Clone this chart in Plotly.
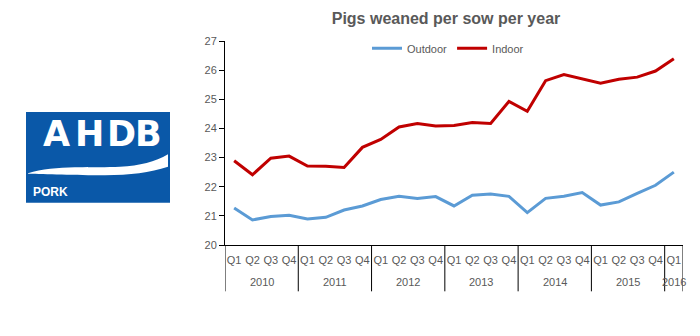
import plotly.graph_objects as go

# ---- data ----
years = ["2010", "2011", "2012", "2013", "2014", "2015", "2016"]
quarters = ["Q1", "Q2", "Q3", "Q4"]
outdoor = [21.27, 20.86, 20.98, 21.02,
           20.89, 20.95, 21.20, 21.34,
           21.56, 21.67, 21.60, 21.66,
           21.34, 21.71, 21.75, 21.67,
           21.11, 21.60, 21.67, 21.80,
           21.37, 21.48, 21.77, 22.05,
           22.50]
indoor = [22.89, 22.41, 22.98, 23.05,
          22.71, 22.70, 22.66, 23.35,
          23.62, 24.05, 24.17, 24.08,
          24.10, 24.20, 24.17, 24.93,
          24.59, 25.64, 25.85, 25.70,
          25.55, 25.69, 25.76, 25.97,
          26.39]

cats, qlab, ylab = [], [], []
for y in years:
    for q in quarters:
        if len(cats) < len(outdoor):
            cats.append(f"{y} {q}")
            qlab.append(q)
            ylab.append(y)

# ---- layout geometry ----
W, H = 700, 336
ML, MR, MT, MB = 225, 17, 40.7, 90.5
PW, PH = W - ML - MR, H - MT - MB


def px(x):
    return (x - ML) / PW


def py(y):
    return 1 - (y - MT) / PH


GREY = "#595959"
FONT = "Liberation Sans, Arial, sans-serif"

fig = go.Figure()
fig.add_trace(go.Scatter(x=cats, y=outdoor, name="Outdoor", mode="lines",
                         line=dict(color="#5B9BD5", width=3)))
fig.add_trace(go.Scatter(x=cats, y=indoor, name="Indoor", mode="lines",
                         line=dict(color="#C00000", width=3)))

shapes = []
annotations = []

# year group dividers and labels
n = len(cats)
bounds = [-0.5]
for i in range(1, n):
    if ylab[i] != ylab[i - 1]:
        bounds.append(i - 0.5)
bounds.append(n - 0.5)
for b in bounds:
    shapes.append(dict(type="line", xref="x", yref="paper", x0=b, x1=b,
                       y0=py(245.5), y1=py(292), line=dict(color="black", width=1)))
for k in range(len(bounds) - 1):
    idx = int(bounds[k] + 0.5)
    annotations.append(dict(text=ylab[idx], xref="x", yref="paper",
                            x=(bounds[k] + bounds[k + 1]) / 2, y=py(283),
                            xanchor="center", yanchor="middle", showarrow=False,
                            font=dict(family=FONT, size=11, color=GREY)))

# ---- logo ----
shapes.append(dict(type="rect", xref="paper", yref="paper",
                   x0=px(26), x1=px(170), y0=py(203), y1=py(112),
                   fillcolor="#0a58a8", line=dict(width=0), layer="above"))


def P(a, b):
    return f"{px(a):.5f},{py(b):.5f}"


path = ("M " + P(28, 173.5) +
        " C " + P(55, 165) + " " + P(95, 168.5) + " " + P(120, 167) +
        " C " + P(140, 166) + " " + P(155, 162) + " " + P(168, 154.5) +
        " L " + P(168, 167) +
        " C " + P(150, 173) + " " + P(130, 175.5) + " " + P(105, 175.5) +
        " C " + P(75, 175.5) + " " + P(45, 174.5) + " " + P(28, 174) + " Z")
shapes.append(dict(type="path", xref="paper", yref="paper", path=path,
                   fillcolor="white", line=dict(width=0), layer="above"))

for letter, cx in zip("AHDB", [56, 89.5, 121.5, 148.5]):
    annotations.append(dict(text=letter, xref="paper", yref="paper",
                            x=px(cx), y=py(134), xanchor="center", yanchor="middle",
                            showarrow=False,
                            font=dict(family="DejaVu Sans, sans-serif", size=35,
                                      color="white", weight="bold")))
annotations.append(dict(text="PORK", xref="paper", yref="paper",
                        x=px(31), y=py(192), xanchor="left", yanchor="middle",
                        showarrow=False,
                        font=dict(family=FONT, size=12, color="white", weight="bold")))

fig.update_layout(
    width=W, height=H,
    margin=dict(l=ML, r=MR, t=MT, b=MB, pad=0),
    paper_bgcolor="white", plot_bgcolor="white",
    font=dict(family=FONT, size=11, color=GREY),
    title=dict(text="<b>Pigs weaned per sow per year</b>", xref="container", x=446 / W,
               xanchor="center", y=1 - 18 / H, yanchor="middle",
               font=dict(family=FONT, size=16, color=GREY)),
    legend=dict(orientation="h", x=px(448), xanchor="center", y=py(48), yanchor="middle",
                bgcolor="rgba(0,0,0,0)", font=dict(size=11, color=GREY),
                itemwidth=30, tracegroupgap=0),
    showlegend=True,
    shapes=shapes,
    annotations=annotations,
    xaxis=dict(type="category", range=[-0.5, n - 0.5], tickvals=cats, ticktext=qlab,
               showline=True, linecolor="black", linewidth=1,
               showgrid=False, zeroline=False, ticks="", tickangle=0,
               ticklabelstandoff=5,
               tickfont=dict(size=11, color=GREY)),
    yaxis=dict(range=[20, 27], dtick=1, showline=True, linecolor="black", linewidth=1,
               showgrid=False, zeroline=False, ticks="outside", ticklen=5,
               tickcolor="black", tickfont=dict(size=11, color=GREY)),
)

fig.write_html("out.html")
